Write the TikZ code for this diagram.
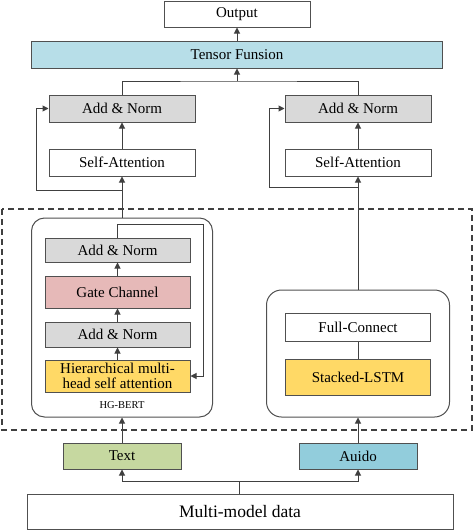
\documentclass[tikz,border=0pt]{standalone}
\usepackage{fontspec}
\setmainfont{Liberation Serif}
\usetikzlibrary{arrows.meta}
\definecolor{lc}{HTML}{404040}
\definecolor{bc}{HTML}{505050}
\definecolor{tfblue}{HTML}{B7DEE8}
\definecolor{gr}{HTML}{D9D9D9}
\definecolor{pink}{HTML}{E6B9B8}
\definecolor{gold}{HTML}{FFD966}
\definecolor{tgreen}{HTML}{C6D8A0}
\definecolor{ablue}{HTML}{92CDDC}
\tikzset{
  box/.style={draw=bc, line width=1pt, rectangle, inner sep=0pt, font=\fontsize{15}{17}\selectfont, text=black},
  grp/.style={draw=bc, line width=1pt, rectangle, rounded corners=13pt, inner sep=0pt},
  conn/.style={draw=lc, line width=1pt},
  arr/.style={conn, -{Triangle[length=6pt,width=6pt]}},
}
\begin{document}
\begin{tikzpicture}[x=1pt,y=-1pt]
\useasboundingbox (0,0) rectangle (474,530);
% top
\node[box, minimum width=146pt, minimum height=26pt] (out) at (237,14) {Output};
\node[box, fill=tfblue, minimum width=411pt, minimum height=27pt] (tf) at (237,54.5) {Tensor Funsion};
\node[box, fill=gr, minimum width=146pt, minimum height=27pt] (lan) at (122,108.5) {Add \& Norm};
\node[box, fill=gr, minimum width=146pt, minimum height=27pt] (ran) at (358,108.5) {Add \& Norm};
\node[box, minimum width=146pt, minimum height=27pt] (lsa) at (122,162.5) {Self-Attention};
\node[box, minimum width=146pt, minimum height=27pt] (rsa) at (358,162.5) {Self-Attention};
% dashed region
\draw[draw=lc, line width=1.2pt, dash pattern=on 6pt off 4pt] (2,209) rectangle (472,430);
% HG-BERT
\node[grp, minimum width=181pt, minimum height=199pt] (hg) at (122,317.5) {};
\node[box, fill=gr, minimum width=145pt, minimum height=24pt] (an1) at (117.5,250) {Add \& Norm};
\node[box, fill=pink, minimum width=145pt, minimum height=32pt] (gate) at (117.5,292) {Gate Channel};
\node[box, fill=gr, minimum width=145pt, minimum height=25pt] (an2) at (117.5,334.5) {Add \& Norm};
\node[box, fill=gold, minimum width=145pt, minimum height=32pt, align=center] (hier) at (117.5,376) {Hierarchical multi-\\[-2pt]head self attention};
\node[font=\fontsize{10.5}{12}\selectfont, inner sep=0pt] (hgl) at (122,405) {HG-BERT};
% LSTM
\node[grp, rounded corners=15pt, minimum width=183pt, minimum height=127pt] (ls) at (358,353.5) {};
\node[box, minimum width=145pt, minimum height=28pt] (fc) at (358,327) {Full-Connect};
\node[box, fill=gold, minimum width=145pt, minimum height=36pt] (sl) at (358,377) {Stacked-LSTM};
% bottom
\node[box, fill=tgreen, minimum width=118pt, minimum height=26pt] (txt) at (122,456) {Text};
\node[box, fill=ablue, minimum width=118pt, minimum height=26pt] (aud) at (358,456) {Auido};
\node[box, font=\fontsize{17.5}{20}\selectfont, minimum width=426pt, minimum height=35pt] (mm) at (240,511.5) {Multi-model data};
% connectors top
\coordinate (jt) at (237,81);
\draw[conn] (lan.north) |- (jt) -| (ran.north);
\draw[arr] (jt) -- (tf.south);
\draw[arr] (tf.north) -- (out.south);
\draw[arr] (lsa.north) -- (lan.south);
\draw[arr] (rsa.north) -- (ran.south);
\draw[arr] (hg.north) -- (lsa.south);
\draw[arr] (ls.north) -- (rsa.south);
% residuals
\coordinate (lr1) at (122,190);
\coordinate (lr2) at (36,190);
\draw[arr] (lr1) -- (lr2) |- (lan.west);
\coordinate (rr1) at (358,187);
\coordinate (rr2) at (269,187);
\draw[arr] (rr1) -- (rr2) |- (ran.west);
% inner HG-BERT
\draw[arr] (hier.north) -- (an2.south);
\draw[arr] (an2.north) -- (gate.south);
\draw[arr] (gate.north) -- (an1.south);
\coordinate (lp1) at (203,224);
\draw[arr] (an1.north) |- (lp1) |- (hier.east);
% LSTM inner
\draw[conn] (sl.north) -- (fc.south);
% inputs
\draw[arr] (txt.north) -- (hg.south);
\draw[arr] (aud.north) -- (ls.south);
\coordinate (js) at (239,481);
\draw[conn] (mm.north -| js) -- (js);
\draw[arr] (js) -| (txt.south);
\draw[arr] (js) -| (aud.south);
\end{tikzpicture}
\end{document}
